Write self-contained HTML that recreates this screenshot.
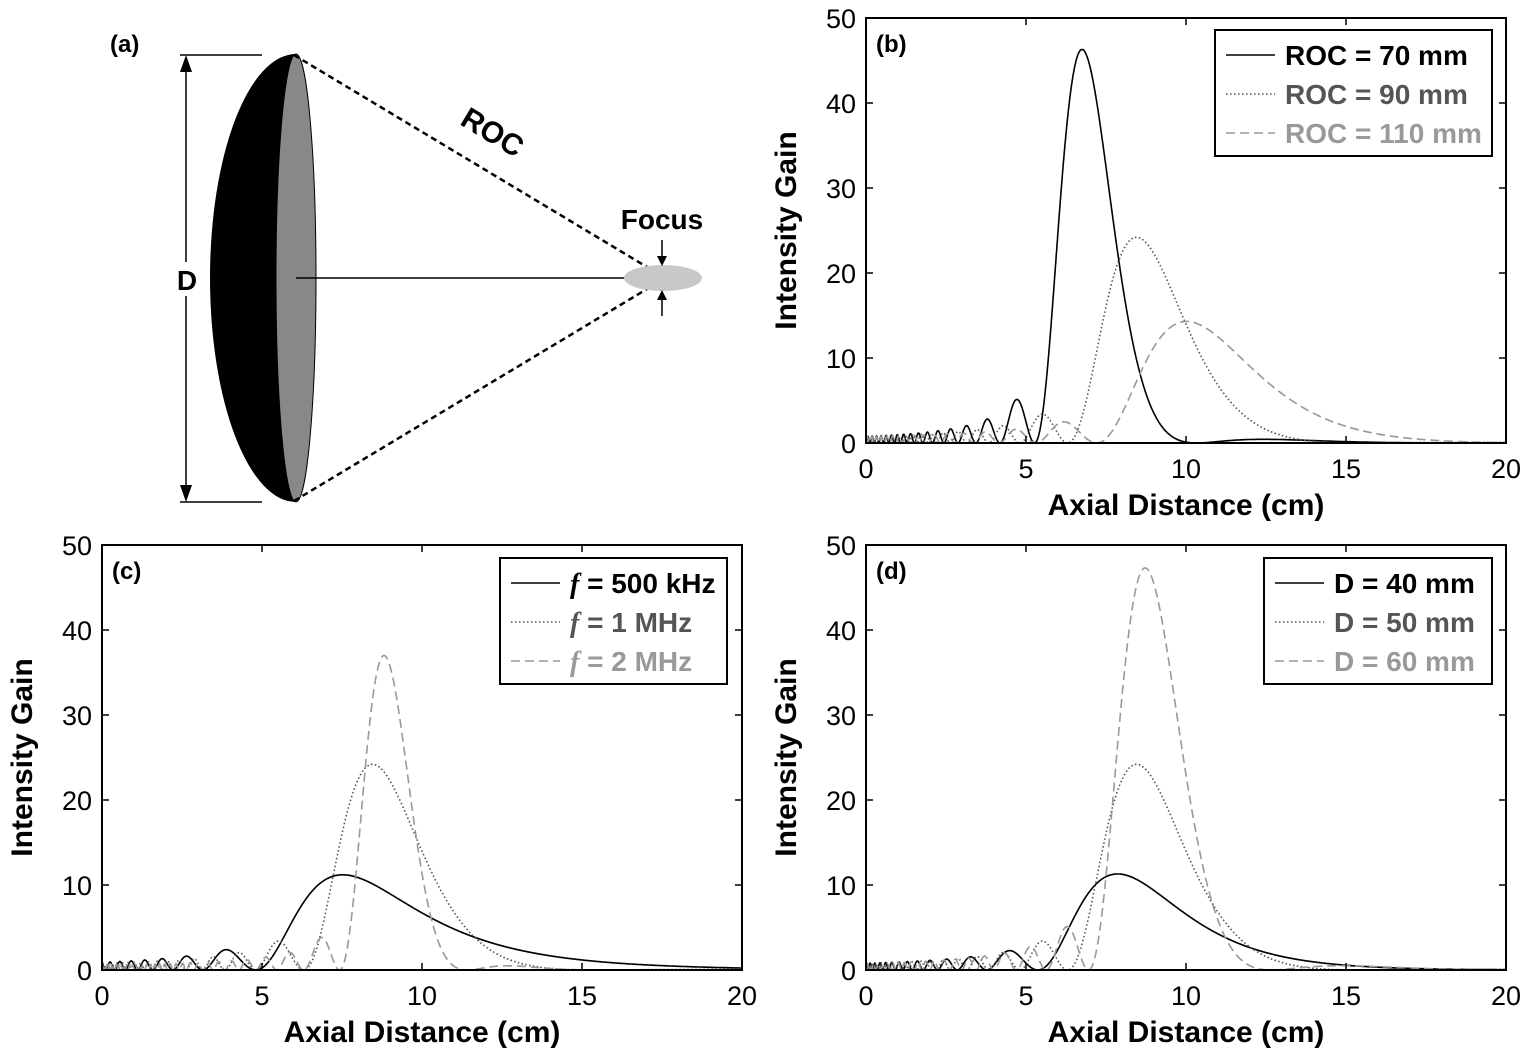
<!DOCTYPE html>
<html><head><meta charset="utf-8"><style>
body{margin:0;background:#fff}
svg text{font-family:"Liberation Sans",sans-serif}
</style></head><body>
<svg id="s" width="1529" height="1059" viewBox="0 0 1529 1059" xmlns="http://www.w3.org/2000/svg">
<!-- Panel a -->
<text x="110" y="52" font-size="24" font-weight="bold">(a)</text>
<line x1="180" y1="55" x2="262" y2="55" stroke="#000" stroke-width="1.5"/>
<line x1="180" y1="502" x2="262" y2="502" stroke="#000" stroke-width="1.5"/>
<line x1="186" y1="60" x2="186" y2="497" stroke="#000" stroke-width="1.5"/>
<polygon points="186,55 180,72 192,72" fill="#000"/>
<polygon points="186,502 180,485 192,485" fill="#000"/>
<rect x="170" y="262" width="34" height="34" fill="#fff"/>
<text x="187" y="290" font-size="28" font-weight="bold" text-anchor="middle">D</text>
<path d="M296 54 A86 224 0 0 0 296 502 Z" fill="#000"/>
<ellipse cx="296" cy="278" rx="20" ry="224" fill="#888" stroke="#000" stroke-width="1"/>
<line x1="296" y1="278" x2="626" y2="278" stroke="#000" stroke-width="1.5"/>
<line x1="294" y1="55" x2="652" y2="270" stroke="#000" stroke-width="2.5" stroke-dasharray="6 4"/>
<line x1="294" y1="501" x2="652" y2="286" stroke="#000" stroke-width="2.5" stroke-dasharray="6 4"/>
<ellipse cx="663" cy="278" rx="39" ry="13" fill="#c8c8c8"/>
<text x="452" y="132" font-size="30" font-weight="bold" transform="rotate(31 470 140)">ROC</text>
<text x="662" y="229" font-size="28" font-weight="bold" text-anchor="middle">Focus</text>
<line x1="662" y1="240" x2="662" y2="262" stroke="#000" stroke-width="1.5"/>
<polygon points="662,266 657,256 667,256" fill="#000"/>
<line x1="662" y1="294" x2="662" y2="316" stroke="#000" stroke-width="1.5"/>
<polygon points="662,290 657,300 667,300" fill="#000"/>
<g id="plots"></g>
</svg>
<script>
var NS="http://www.w3.org/2000/svg",G=document.getElementById('plots');
function el(t,a,txt){var e=document.createElementNS(NS,t);for(var k in a)e.setAttribute(k,a[k]);if(txt!==undefined)e.textContent=txt;G.appendChild(e);return e;}
function curve(R,D,f,peak){
  var a=D/2,h=R-Math.sqrt(R*R-a*a),k=2*Math.PI*f/1.5,alpha=0.0035*f;
  var pts=[],mx=0;
  for(var i=0;i<=4000;i++){var z=i*200/4000+0.0001;
    var R1=Math.sqrt((z-h)*(z-h)+a*a),d=1-z/R,v;
    if(Math.abs(d)<1e-4){v=k*h/1}else{v=2/d*Math.sin(k/2*(R1-z));}
    var I=v*v*Math.exp(-2*alpha*z);pts.push([z/10,I]);if(I>mx)mx=I;}
  return pts.map(function(p){return [p[0],p[1]/mx*peak];});
}
var styles=[{c:"#000",d:""},{c:"#555",d:"1.5 2.5"},{c:"#999",d:"9 5"}];
function panel(x0,y0,lab,curves,leg,lx,ly,lw){
  var W=640,H=425,sx=W/20,sy=H/50;
  el('rect',{x:x0,y:y0,width:W,height:H,fill:"#fff"});
  curves.forEach(function(c,i){
    var d=c.map(function(p,j){return (j?'L':'M')+(x0+p[0]*sx).toFixed(1)+' '+(y0+H-Math.min(p[1],50)*sy).toFixed(1);}).join('');
    el('path',{d:d,fill:"none",stroke:styles[i].c,"stroke-width":1.6,"stroke-dasharray":styles[i].d});
  });
  el('rect',{x:x0,y:y0,width:W,height:H,fill:"none",stroke:"#000","stroke-width":2});
  for(var t=0;t<=20;t+=5){var x=x0+t*sx;
    el('line',{x1:x,y1:y0+H,x2:x,y2:y0+H-7,stroke:"#000","stroke-width":1.5});
    el('line',{x1:x,y1:y0,x2:x,y2:y0+7,stroke:"#000","stroke-width":1.5});
    el('text',{x:x,y:y0+H+35,"font-size":27,"text-anchor":"middle"},t);}
  for(var t=0;t<=50;t+=10){var y=y0+H-t*sy;
    el('line',{x1:x0,y1:y,x2:x0+7,y2:y,stroke:"#000","stroke-width":1.5});
    el('line',{x1:x0+W,y1:y,x2:x0+W-7,y2:y,stroke:"#000","stroke-width":1.5});
    el('text',{x:x0-10,y:y+10,"font-size":27,"text-anchor":"end"},t);}
  el('text',{x:x0+W/2,y:y0+H+72,"font-size":30,"font-weight":"bold","text-anchor":"middle"},"Axial Distance (cm)");
  var cx=x0-70,cy=y0+H/2;
  el('text',{x:cx,y:cy,"font-size":30,"font-weight":"bold","text-anchor":"middle",transform:"rotate(-90 "+cx+" "+cy+")"},"Intensity Gain");
  el('text',{x:x0+10,y:y0+34,"font-size":24,"font-weight":"bold"},lab);
  el('rect',{x:lx,y:ly,width:lw,height:126,fill:"#fff",stroke:"#000","stroke-width":2});
  leg.forEach(function(s,i){var y=ly+25+i*39;
    el('line',{x1:lx+11,y1:y,x2:lx+60,y2:y,stroke:styles[i].c,"stroke-width":1.6,"stroke-dasharray":styles[i].d});
    var t=el('text',{x:lx+70,y:y+10,"font-size":28,"font-weight":"bold",fill:["#000","#555","#999"][i]});
    t.innerHTML=s;});
}
panel(866,18,"(b)",[curve(70,50,1,46.3),curve(90,50,1,24.2),curve(110,50,1,14.3)],
 ["ROC = 70 mm","ROC = 90 mm","ROC = 110 mm"],1215,30,277);
panel(102,545,"(c)",[curve(90,50,0.5,11.2),curve(90,50,1,24.2),curve(90,50,2,37)],
 ['<tspan font-family="Liberation Serif" font-style="italic">f</tspan> = 500 kHz','<tspan font-family="Liberation Serif" font-style="italic">f</tspan> = 1 MHz','<tspan font-family="Liberation Serif" font-style="italic">f</tspan> = 2 MHz'],500,558,227);
panel(866,545,"(d)",[curve(90,40,1,11.3),curve(90,50,1,24.2),curve(90,60,1,47.3)],
 ["D = 40 mm","D = 50 mm","D = 60 mm"],1264,558,228);
</script>
</body></html>
